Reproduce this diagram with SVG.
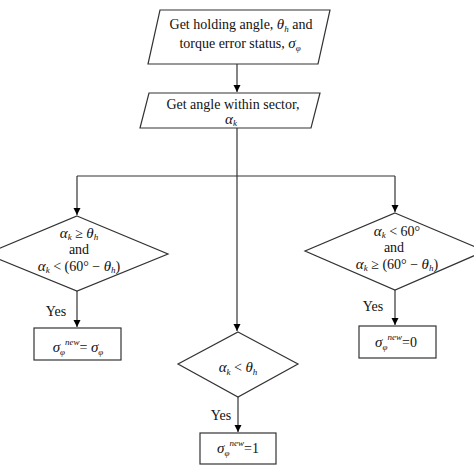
<svg xmlns="http://www.w3.org/2000/svg" width="474" height="474" viewBox="0 0 474 474">
<defs>
<marker id="ah" markerWidth="8" markerHeight="8" refX="7" refY="4" orient="auto" markerUnits="userSpaceOnUse">
<path d="M0,0.5 L7,4 L0,7.5 Z" fill="#000"/>
</marker>
<style>
.s{fill:#fff;stroke:#333;stroke-width:1.2}
.c{fill:none;stroke:#333;stroke-width:1.2}
text{font-family:"Liberation Serif","Times New Roman",serif;font-size:14px;fill:#111;text-anchor:middle}
.m{font-style:italic;font-size:15px}
.sb{font-size:9px;font-style:italic}
</style>
</defs>
<rect width="474" height="474" fill="#fff"/>
<g id="connectors">
<path class="c" d="M237,64 V92" marker-end="url(#ah)"/>
<path class="c" d="M237,128 V331" marker-end="url(#ah)"/>
<path class="c" d="M77,176 H395"/>
<path class="c" d="M77,176 V215" marker-end="url(#ah)"/>
<path class="c" d="M395,176 V212" marker-end="url(#ah)"/>
<path class="c" d="M77,291 V327" marker-end="url(#ah)"/>
<path class="c" d="M395,290 V325" marker-end="url(#ah)"/>
<path class="c" d="M238,397 V432" marker-end="url(#ah)"/>
<text x="56" y="316">Yes</text>
<text x="373" y="311">Yes</text>
<text x="221" y="420">Yes</text>
</g>
<g id="n1">
<polygon class="s" points="160,10 330,10 318,64 148,64"/>
<text x="241" y="29">Get holding angle, <tspan class="m">θ</tspan><tspan class="sb" dy="3">h</tspan><tspan dy="-3"> and</tspan></text>
<text x="240" y="48">torque error status, <tspan class="m">σ</tspan><tspan class="sb" dy="3">φ</tspan></text>
</g>
<g id="n2">
<polygon class="s" points="149,93 320,93 311,128 140,128"/>
<text x="233" y="109">Get angle within sector,</text>
<text x="231" y="124"><tspan class="m">α</tspan><tspan class="sb" dy="2">k</tspan></text>
</g>
<g id="d1">
<polygon class="s" points="77,216 168,254 77,291 -14,254"/>
<text x="79" y="238"><tspan class="m">α</tspan><tspan class="sb" dy="2">k</tspan><tspan dy="-2"> ≥ </tspan><tspan class="m">θ</tspan><tspan class="sb" dy="2">h</tspan></text>
<text x="79" y="254">and</text>
<text x="79" y="271"><tspan class="m">α</tspan><tspan class="sb" dy="2">k</tspan><tspan dy="-2"> &lt; (60° − </tspan><tspan class="m">θ</tspan><tspan class="sb" dy="2">h</tspan><tspan dy="-2">)</tspan></text>
</g>
<g id="d2">
<polygon class="s" points="395,213 485,251 395,290 305,251"/>
<text x="397" y="236"><tspan class="m">α</tspan><tspan class="sb" dy="2">k</tspan><tspan dy="-2"> &lt; 60°</tspan></text>
<text x="394" y="252">and</text>
<text x="397" y="269"><tspan class="m">α</tspan><tspan class="sb" dy="2">k</tspan><tspan dy="-2"> ≥ (60° − </tspan><tspan class="m">θ</tspan><tspan class="sb" dy="2">h</tspan><tspan dy="-2">)</tspan></text>
</g>
<g id="d3">
<polygon class="s" points="238,332 298,364 238,397 178,364"/>
<text x="238" y="372"><tspan class="m">α</tspan><tspan class="sb" dy="3">k</tspan><tspan dy="-3"> &lt; </tspan><tspan class="m">θ</tspan><tspan class="sb" dy="3">h</tspan></text>
</g>
<g id="b1">
<rect class="s" x="34" y="328" width="87" height="32"/>
<text x="78" y="352"><tspan class="m">σ</tspan><tspan class="sb" dy="3">φ</tspan><tspan class="sb" dy="-10">new</tspan><tspan dy="7">= </tspan><tspan class="m">σ</tspan><tspan class="sb" dy="3">φ</tspan></text>
</g>
<g id="b2">
<rect class="s" x="359" y="326" width="77" height="32"/>
<text x="396" y="347"><tspan class="m">σ</tspan><tspan class="sb" dy="3">φ</tspan><tspan class="sb" dy="-10">new</tspan><tspan dy="7">=0</tspan></text>
</g>
<g id="b3">
<rect class="s" x="200" y="433" width="76" height="31"/>
<text x="238" y="453"><tspan class="m">σ</tspan><tspan class="sb" dy="3">φ</tspan><tspan class="sb" dy="-10">new</tspan><tspan dy="7">=1</tspan></text>
</g>
</svg>
